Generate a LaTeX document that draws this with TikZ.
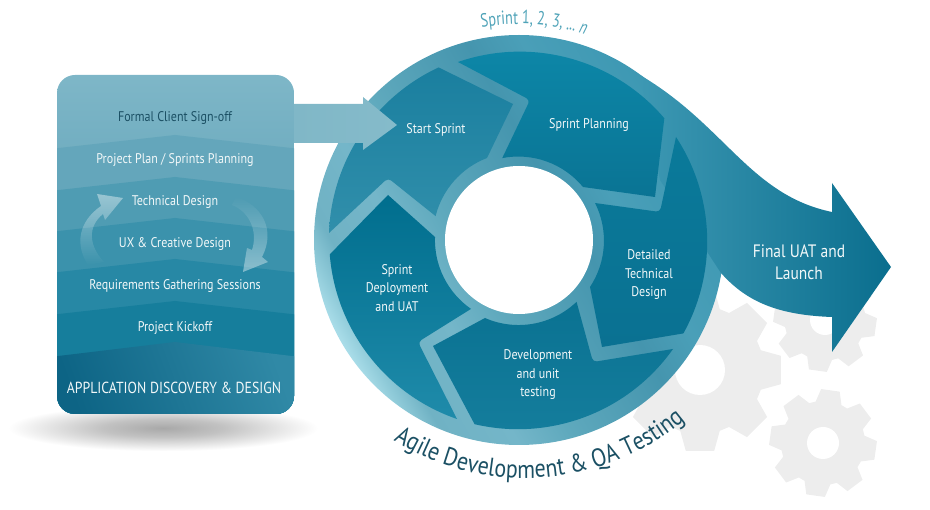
\documentclass[tikz,border=0pt]{standalone}
\usepackage{fontspec}
\setmainfont[FakeStretch=0.86]{PT Sans}
\usepackage{tikz}
\usetikzlibrary{arrows, fadings, decorations.text}
\definecolor{ring_dark}{HTML}{2A82A0}
\definecolor{title_dark}{HTML}{1B5064}
\definecolor{gear_grey}{HTML}{EDEDED}
\newcommand{\hexcol}[1]{\definecolor{#1}{HTML}{#1}}
\hexcol{7FB7C8}\hexcol{70ADC0}\hexcol{64A6BB}\hexcol{4F9CB3}\hexcol{3B92AC}\hexcol{2788A5}\hexcol{167E9C}
\hexcol{0D6485}\hexcol{3089A6}\hexcol{3D98B3}\hexcol{0A6E8E}\hexcol{1A7F9F}\hexcol{318FAB}
\hexcol{0D88A9}\hexcol{0A7494}\hexcol{0A7A9A}\hexcol{0A7192}\hexcol{0A7292}\hexcol{157E9D}\hexcol{006E8E}
\hexcol{1F8BAA}\hexcol{80B7C7}\hexcol{85BBCA}\hexcol{4FA3B8}
\hexcol{A8DCE8}\hexcol{90CBD9}\hexcol{70B2C4}\hexcol{74B6C9}\hexcol{5FA9BD}\hexcol{4595AE}\hexcol{4A9FB8}
\pgfdeclarehorizontalshading{ring_shading}{100bp}{color(0bp)=(A8DCE8); color(25bp)=(A8DCE8); color(27bp)=(90CBD9); color(30bp)=(70B2C4); color(37.5bp)=(74B6C9); color(43.5bp)=(5FA9BD); color(56.5bp)=(4595AE); color(62.5bp)=(4A9FB8); color(73bp)=(3D98B3); color(100bp)=(3D98B3)}
\pgfdeclareradialshading{shadow_blur}{\pgfpoint{0bp}{0bp}}{color(0bp)=(black!34!white); color(7bp)=(black!24!white); color(18bp)=(white); color(50bp)=(white)}
\tikzstyle{box_label} = [text centered, text=white!94!ring_dark, font=\fontsize{14}{14}\selectfont]
\tikzstyle{seg_label} = [text centered, align=center, text=white!94!ring_dark, font=\fontsize{14}{18.5}\selectfont]
\tikzstyle{gear_tooth} = [fill=gear_grey]
% one grey gear: centre, tip radius, hole radius, turn
\newcommand{\gearshape}[4]{
    \begin{scope}[shift={(#1)}]
    \fill [gear_tooth] ({#4-18}:0.78*#2) \foreach \a in {0,45,...,315} { -- ({#4+\a-18}:0.78*#2) -- ({#4+\a-10}:#2) -- ({#4+\a+10}:#2) -- ({#4+\a+18}:0.78*#2) } -- cycle;
    \fill [white] (0,0) circle (#3);
    \end{scope}
}
\begin{document}
\begin{tikzpicture}[x=1pt, y=-1pt, node distance=42pt]
    \useasboundingbox (0,0) rectangle (930,510);
    \coordinate (hub) at (519,240);
    \coordinate (agile_centre) at (525,229);
    % gears and shadow
    \shade [shading=shadow_blur] (163,428) ellipse (215 and 32);
    \gearshape{700,370}{82}{25}{0}
    \gearshape{825,320}{52}{15}{8}
    \gearshape{823,443}{54}{16}{8}
    % discovery box
    \begin{scope}
    \clip [rounded corners=18pt] (57,75) rectangle (294,414);
    \shade [top color=7FB7C8, bottom color=70ADC0] (50,70) rectangle (300,160);
    \foreach \yl/\col in {149/64A6BB, 191/4F9CB3, 232/3B92AC, 273/2788A5, 315/167E9C} {
        \fill [\col] (50,\yl) -- (175,\yl-14) -- (300,\yl) -- (300,420) -- (50,420) -- cycle;
    }
    \shade [left color=0D6485, right color=3089A6, shading angle=110] (50,357) -- (175,342) -- (300,357) -- (300,420) -- (50,420) -- cycle;
    \end{scope}
    % cycle arrows in the box
    \fill [white, fill opacity=0.42, path fading=south] (88,265) .. controls (75,245) and (78,222) .. (101,206) -- (97,194) -- (123,198) -- (105,220) -- (103,214) .. controls (88,226) and (88,245) .. (104,262) -- cycle;
    \fill [white, fill opacity=0.42, path fading=north] (236,197) .. controls (262,205) and (276,230) .. (262,257) -- (268,262) -- (243,272) -- (247,248) -- (252,250) .. controls (258,232) and (250,212) .. (232,205) -- cycle;
    % ring
    \shade [shading=ring_shading, shading angle=30] (hub) circle (205);
    % final arrow
    \shade [left color=3D98B3, right color=0A6E8E] (640,75) .. controls (725,125) and (750,195) .. (832,212) -- (832,183) -- (891,267) -- (832,352) -- (832,317) .. controls (775,315) and (745,300) .. (721,273) -- (660,180) -- cycle;
    % sprint segments
    \shade [top color=1A7F9F, bottom color=318FAB] (329,233) arc (182:245:190) -- (513,104) -- (487,158) arc (249:194:84) [rounded corners=4pt] -- (388,178) [sharp corners] -- cycle;
    \shade [top color=0D88A9, bottom color=0A7494] (458,62) arc (251:319.5:190) -- (655,197) -- (583,187) arc (320.4:259:84) [rounded corners=4pt] -- (530,100) [sharp corners] -- cycle;
    \shade [top color=0A7A9A, bottom color=0A7192] (676,137) arc (-33.3:29:190) -- (602,347) -- (590,287) arc (33.5:-26.6:84) [rounded corners=4pt] -- (660,212) [sharp corners] -- cycle;
    \shade [top color=0A7292, bottom color=157E9D] (673,349) arc (35.3:103.2:190) -- (433,346) -- (485,318) arc (113.6:46.4:84) [rounded corners=4pt] -- (593,362) [sharp corners] -- cycle;
    \shade [top color=006E8E, bottom color=1F8BAA] (457,419) arc (109.1:175.5:190) -- (388,195) -- (435,237) arc (182:124.8:84) [rounded corners=4pt] -- (418,342) [sharp corners] -- cycle;
    \fill [white] (hub) circle (74);
    % arrow into the ring
    \shade [left color=80B7C7, right color=85BBCA] (294,104) -- (363,104) -- (363,97) -- (397,125) -- (363,150) -- (363,143) -- (294,143) -- cycle;
    % texts
    \node (client_signoff) [box_label, text=title_dark] at (175,118) {Formal Client Sign-off};
    \node (project_plan) [box_label, below of=client_signoff] {Project Plan / Sprints Planning};
    \node (tech_design) [box_label, below of=project_plan] {Technical Design};
    \node (ux_design) [box_label, below of=tech_design] {UX \& Creative Design};
    \node (requirements) [box_label, below of=ux_design] {Requirements Gathering Sessions};
    \node (kickoff) [box_label, below of=requirements] {Project Kickoff};
    \node (box_title) [box_label, font=\fontsize{16}{16}\selectfont] at (174,388) {APPLICATION DISCOVERY \& DESIGN};
    \node (start_sprint) [seg_label] at (436,130) {Start Sprint};
    \node (sprint_planning) [seg_label] at (589,125) {Sprint Planning};
    \node (detailed_design) [seg_label] at (649,275) {Detailed\\Technical\\Design};
    \node (dev_testing) [seg_label] at (538,375) {Development\\and unit\\testing};
    \node (deployment) [seg_label] at (397,288) {Sprint\\Deployment\\and UAT};
    \node (final_uat) [seg_label, font=\fontsize{18}{22}\selectfont] at (799,262) {Final UAT and\\Launch};
    \path [decorate, decoration={text along path, text align={align=center}, text={|\fontsize{19}{19}\selectfont\addfontfeature{FakeStretch=0.75}\color{4FA3B8}|Sprint 1, 2, 3, ... |\fontsize{19}{19}\selectfont\addfontfeature{FakeStretch=0.75}\color{4FA3B8}\itshape|n}}] (hub) ++(256:216) arc (256:292:216);
    \path [decorate, decoration={text along path, text align={align=center}, text={|\fontsize{25.5}{26}\selectfont\color{title_dark}|Agile Development {\&} QA Testing}}] (agile_centre) ++(126:249) arc (126:46:249);
\end{tikzpicture}
\end{document}
